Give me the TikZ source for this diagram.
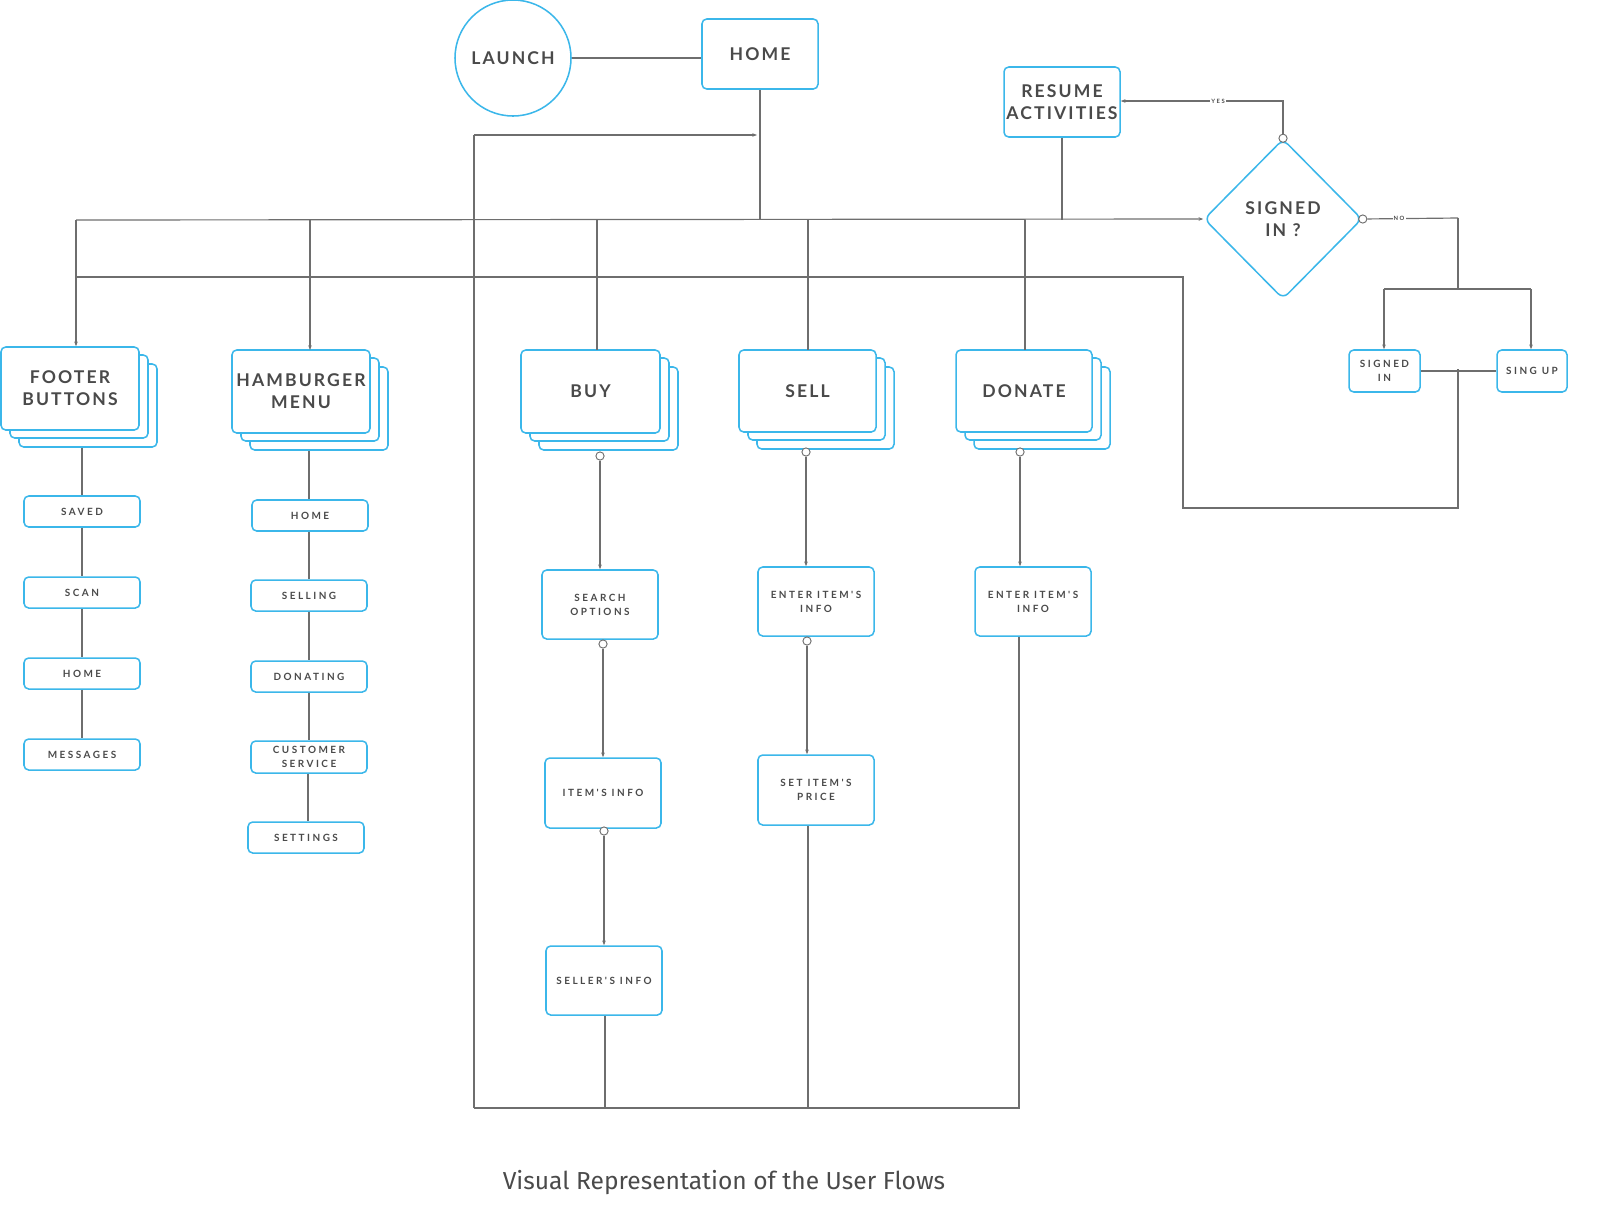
\documentclass[tikz,border=0pt]{standalone}
\usepackage{fontspec}
\setmainfont{Lato}
\newfontfamily\bigf{Lato}[LetterSpace=12]
\newfontfamily\smf{Lato}[LetterSpace=25]
\newfontfamily\titf{Fira Sans}
\usetikzlibrary{arrows.meta,shapes.geometric}
\definecolor{bl}{HTML}{3BB7EA}
\definecolor{ln}{HTML}{6E6E6E}
\definecolor{tx}{HTML}{4A4A4A}
\tikzset{
  box/.style={draw=bl,line width=1.3pt,rounded corners=4pt,fill=white,text=tx,align=center,inner sep=0pt},
  big/.style={font=\bigf\bfseries\fontsize{15}{19}\selectfont},
  sm/.style={font=\smf\bfseries\fontsize{8.5}{12}\selectfont},
  con/.style={draw=ln,line width=1pt},
  arr/.style={con,-{Stealth[length=4pt,width=3pt]}},
  dot/.style={circle,draw=ln,fill=white,line width=0.8pt,minimum size=7pt,inner sep=0pt},
  lbl/.style={fill=white,text=tx,font=\smf\bfseries\fontsize{5}{6}\selectfont,inner sep=1pt}
}
\newcommand\bx[7][]{%
  \pgfmathsetmacro\bw{((#5)-(#3))*0.03}\pgfmathsetmacro\bh{((#6)-(#4))*0.03}%
  \node[box,minimum width=\bw cm,minimum height=\bh cm,#1] (#2) at ({((#3)+(#5))/2},{((#4)+(#6))/2}) {#7};}
\newcommand\stk[7][]{%
  \bx[#1]{#2b}{#3+18}{#4+17}{#5+18}{#6+17}{}%
  \bx[#1]{#2a}{#3+9}{#4+8}{#5+9}{#6+8}{}%
  \bx[#1]{#2}{#3}{#4}{#5}{#6}{#7}}
\begin{document}
\begin{tikzpicture}[x=0.03cm,y=-0.03cm]
\useasboundingbox (0,0) rectangle (1600,1222);
% top
\node[box,circle,minimum size=3.48cm,big] (launch) at (513,58) {LAUNCH};
\bx[big]{home}{702}{19}{818}{89}{HOME}
\bx[big]{resume}{1004}{67}{1120}{137}{RESUME\\ACTIVITIES}
\node[box,diamond,minimum width=4.74cm,minimum height=4.8cm,rounded corners=6pt,big] (signed) at (1283,219) {SIGNED\\IN ?};
\bx[sm]{sin}{1349}{350}{1420}{392}{SIGNED\\IN}
\bx[sm]{sup}{1497}{350}{1567}{392}{SING UP}
% stacks
\stk[big]{footer}{1}{347}{139}{430}{FOOTER\\BUTTONS}
\stk[big]{ham}{232}{350}{370}{433}{HAMBURGER\\MENU}
\stk[big]{buy}{521}{350}{660}{433}{BUY}
\stk[big]{sell}{739}{350}{876}{432}{SELL}
\stk[big]{don}{956}{350}{1092}{432}{DONATE}
% footer items
\bx[sm]{fsaved}{24}{496}{140}{527}{SAVED}
\bx[sm]{fscan}{24}{577}{140}{608}{SCAN}
\bx[sm]{fhome}{24}{658}{140}{689}{HOME}
\bx[sm]{fmsg}{24}{739}{140}{770}{MESSAGES}
% hamburger items
\bx[sm]{hhome}{252}{500}{368}{531}{HOME}
\bx[sm]{hsell}{251}{580}{367}{611}{SELLING}
\bx[sm]{hdon}{251}{661}{367}{692}{DONATING}
\bx[sm]{hcs}{251}{741}{367}{773}{CUSTOMER\\SERVICE}
\bx[sm]{hset}{248}{822}{364}{853}{SETTINGS}
% buy
\bx[sm]{bso}{542}{570}{658}{639}{SEARCH\\OPTIONS}
\bx[sm]{bii}{545}{758}{661}{828}{ITEM'S INFO}
\bx[sm]{bsi}{546}{946}{662}{1015}{SELLER'S INFO}
% sell
\bx[sm]{sei}{758}{567}{874}{636}{ENTER ITEM'S\\INFO}
\bx[sm]{ssp}{758}{755}{874}{825}{SET ITEM'S\\PRICE}
% donate
\bx[sm]{dei}{975}{567}{1091}{636}{ENTER ITEM'S\\INFO}
% coordinates
\coordinate (h1) at (760,220);
\coordinate (r1) at (1062,220);
\coordinate (bL) at (76,220);
\coordinate (b2L) at (76,277);
\coordinate (b2R) at (1183,277);
\coordinate (b2D) at (1183,508);
\coordinate (b2E) at (1458,508);
\coordinate (j369) at (1458,369);
\coordinate (lp) at (474,1108);
\coordinate (lpt) at (474,135);
\coordinate (lpa) at (757,135);
\coordinate (yesc) at (1283,101);
\coordinate (noc) at (1458,218);
\coordinate (noj) at (1458,289);
\coordinate (bot) at (1019,1108);
% connectors
\draw[con] (launch) -- (launch.east -| home.west);
\draw[con] (home.south -| h1) -- (h1);
\draw[con] (resume.south -| r1) -- (r1);
\draw[arr] (bL) -- (signed.west);
\draw[arr] (bL) -- (bL |- footer.north);
\draw[arr] (310,220) -- (310,350);
\draw[con] (597,220) -- (597,350);
\draw[con] (808,220) -- (808,350);
\draw[con] (1025,220) -- (1025,350);
\draw[con] (b2L) -- (b2R) -- (b2D) -- (b2E) -- (j369);
\draw[con] (sin.east) -- (sup.west);
\draw[con] (lp) -- (lpt);
\draw[arr] (lpt) -- (lpa);
\draw[con] (lp) -- (bot) -- (dei.south -| bot);
\draw[con] (bsi.south -| 605,0) -- (605,1108);
\draw[con] (ssp.south -| 808,0) -- (808,1108);
% yes / no
\node[dot] (ydot) at (signed.north) {};
\draw[arr] (ydot) -- (yesc) -- (yesc -| resume.east) node[lbl,pos=0.4] {YES};
\node[dot] (ndot) at (signed.east) {};
\draw[con] (ndot) -- (noc) node[lbl,pos=0.35] {NO};
\draw[con] (noc) -- (noj);
\draw[con] (1384,289) -- (1531,289);
\draw[arr] (1384,289) -- (sin.north -| 1384,0);
\draw[arr] (1531,289) -- (sup.north -| 1531,0);
% footer / ham chains
\draw[con] (footerb.south -| 82,0) -- (fsaved.north -| 82,0);
\draw[con] (fsaved.south -| 82,0) -- (fscan.north -| 82,0);
\draw[con] (fscan.south -| 82,0) -- (fhome.north -| 82,0);
\draw[con] (fhome.south -| 82,0) -- (fmsg.north -| 82,0);
\draw[con] (hamb.south -| 309,0) -- (hhome.north -| 309,0);
\draw[con] (hhome.south -| 309,0) -- (hsell.north -| 309,0);
\draw[con] (hsell.south -| 309,0) -- (hdon.north -| 309,0);
\draw[con] (hdon.south -| 309,0) -- (hcs.north -| 309,0);
\draw[con] (hcs.south -| 308,0) -- (hset.north -| 308,0);
% chains with dots
\node[dot] (d1) at (600,456) {};
\draw[arr] (d1) -- (bso.north -| d1);
\node[dot] (d2) at (603,644) {};
\draw[arr] (d2) -- (bii.north -| d2);
\node[dot] (d3) at (604,831) {};
\draw[arr] (d3) -- (bsi.north -| d3);
\node[dot] (d4) at (806,452) {};
\draw[arr] (d4) -- (sei.north -| d4);
\node[dot] (d5) at (807,641) {};
\draw[arr] (d5) -- (ssp.north -| d5);
\node[dot] (d6) at (1020,452) {};
\draw[arr] (d6) -- (dei.north -| d6);
% title
\node[text=tx,font=\titf\fontsize{21}{24}\selectfont] (title) at (724,1183) {Visual Representation of the User Flows};
\end{tikzpicture}
\end{document}
